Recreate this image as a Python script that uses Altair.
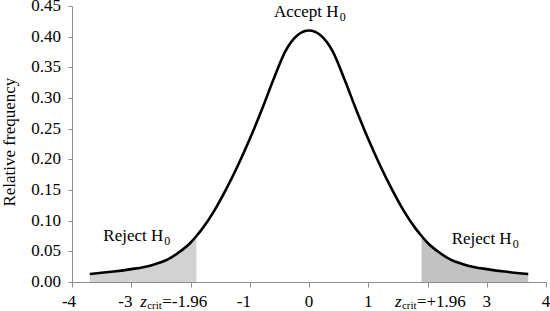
import altair as alt
import pandas as pd

# Curve (x = z value, y = relative frequency)
x_vals = [-3.7, -3.3, -3.0, -2.8, -2.6, -2.4, -2.2, -2.0, -1.9, -1.8, -1.6, -1.4,
          -1.2, -1.0, -0.8, -0.6, -0.4, -0.2, 0.0, 0.2, 0.4, 0.6, 0.8, 1.0, 1.2,
          1.4, 1.6, 1.8, 1.9, 2.0, 2.2, 2.4, 2.6, 2.8, 3.0, 3.3, 3.7]
y_vals = [0.013, 0.017, 0.021, 0.024, 0.029, 0.036, 0.048, 0.064, 0.075, 0.087, 0.116, 0.151,
          0.190, 0.233, 0.280, 0.330, 0.376, 0.402, 0.410, 0.402, 0.376, 0.330, 0.280, 0.233, 0.190,
          0.151, 0.116, 0.087, 0.075, 0.064, 0.048, 0.036, 0.029, 0.024, 0.021, 0.017, 0.013]

x_ticks = [-4, -3, -2, -1, 0, 1, 2, 3, 4]
x_tick_labels = ["-4", "-3", "-1", "0", "1", "3", "4"]
x_label_pos = [-4.05, -3.1, -1.1, 0, 1, 3, 4]
y_ticks = [0.0, 0.05, 0.10, 0.15, 0.20, 0.25, 0.30, 0.35, 0.40, 0.45]
y_tick_labels = ["0.00", "0.05", "0.10", "0.15", "0.20", "0.25", "0.30", "0.35", "0.40", "0.45"]

z_crit = 1.9

# annotations
ann_text = ["Accept H", "Reject H", "Reject H"]
ann_x = [0.5, -2.46, 3.42]
ann_y = [0.44, 0.075, 0.070]

crit_text = ["=-1.96", "=+1.96"]
crit_x = [-2.85, 1.45]
label_row_y = -0.0326

y_title = "Relative frequency"
y_title_x = -4.97
y_title_y = 0.228

FONT = "Liberation Serif"

curve = pd.DataFrame({"x": x_vals, "y": y_vals})
left = curve[curve.x <= -z_crit]
right = curve[curve.x >= z_crit]
ann = pd.DataFrame({"text": ann_text, "x": ann_x, "y": ann_y, "sub": ["0"] * 3})
crit = pd.DataFrame({"text": crit_text, "x": crit_x, "y": [label_row_y] * 2,
                     "z": ["z"] * 2, "c": ["crit"] * 2})
xlab = pd.DataFrame({"x": x_label_pos, "y": [label_row_y] * len(x_label_pos), "text": x_tick_labels})
ylab = pd.DataFrame({"x": [-4] * len(y_ticks), "y": y_ticks, "text": y_tick_labels})
ytit = pd.DataFrame({"x": [y_title_x], "y": [y_title_y], "text": [y_title]})

xs = alt.Scale(domain=[-4, 4], nice=False, zero=False)
ys = alt.Scale(domain=[0, 0.45], nice=False)

x_axis = alt.Axis(values=x_ticks, grid=False, title=None, tickSize=5, labels=False,
                  domainColor="#8c8c8c", tickColor="#8c8c8c")
y_axis = alt.Axis(values=y_ticks, grid=False, title=None, tickSize=4, labels=False,
                  domainColor="#8c8c8c", tickColor="#8c8c8c")

X = alt.X("x:Q", scale=xs, axis=x_axis, title=None)
Y = alt.Y("y:Q", scale=ys, axis=y_axis, title=None)

area_left = alt.Chart(left).mark_area(color="#d2d2d2", interpolate="monotone").encode(x=X, y=Y)
area_right = alt.Chart(right).mark_area(color="#c2c2c2", interpolate="monotone").encode(x=X, y=Y)

line = alt.Chart(curve).mark_line(color="black", strokeWidth=2.6, interpolate="monotone").encode(
    x=X, y=Y)

def txt(df, field="text", **kw):
    base = dict(font=FONT, fontSize=17, baseline="middle", color="black")
    base.update(kw)
    return alt.Chart(df).mark_text(**base).encode(text=f"{field}:N", x=X, y=Y)

ann_main = txt(ann, align="right")
ann_sub = txt(ann, "sub", fontSize=12, align="left", dx=1, dy=5)
crit_z = txt(crit, "z", fontStyle="italic", align="left")
crit_c = txt(crit, "c", fontSize=11, align="left", dx=7, dy=4)
crit_v = txt(crit, align="left", dx=22)
x_labels = txt(xlab, align="center")
y_labels = txt(ylab, align="right", dx=-11)
y_title_mark = txt(ytit, align="center", baseline="alphabetic", angle=270)

chart = alt.layer(area_left, area_right, line, ann_main, ann_sub, crit_z, crit_c, crit_v,
                  x_labels, y_labels, y_title_mark).properties(
    width=474, height=276,
    background="white",
    autosize=alt.AutoSizeParams(type="none"),
    padding={"left": 72, "top": 6, "right": 4, "bottom": 29},
).configure_view(strokeWidth=0)

chart.save("out.html", embed_options={"renderer": "svg", "actions": False})
